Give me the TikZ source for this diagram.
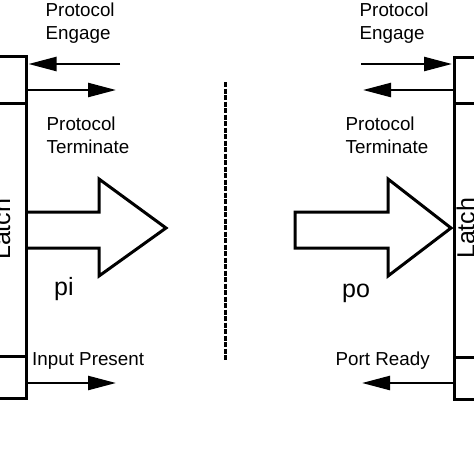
\documentclass[tikz,border=0pt]{standalone}
\usepackage{fontspec}
\setmainfont{Liberation Sans}
\usetikzlibrary{arrows.meta}

\tikzset{
  boxline/.style={line width=3pt},
  sig/.style={line width=2.4pt,-{Triangle[length=28pt,width=14pt]}},
  bigarrow/.style={line width=3pt,line join=miter},
  divider/.style={line width=2.5pt,dash pattern=on 5pt off 1.5pt},
  lbl/.style={font=\fontsize{18.8}{22.6}\selectfont,inner sep=0pt,anchor=base west,align=left},
  biglbl/.style={font=\fontsize{25}{30}\selectfont,inner sep=0pt,anchor=base west},
}

\begin{document}
\begin{tikzpicture}[x=1pt,y=-1pt]
\useasboundingbox (0,0) rectangle (474,474);
\clip (0,0) rectangle (474,474);

% latch boxes, cut by the page edges
\draw[boxline] (-30,56) -- (26,56) -- (26,398) -- (-30,398);
\draw[boxline] (-30,103) -- (26,103);
\draw[boxline] (-30,356) -- (26,356);
\draw[boxline] (500,57) -- (454,57) -- (454,399) -- (500,399);
\draw[boxline] (454,103) -- (500,103);
\draw[boxline] (454,357) -- (500,357);
\node[biglbl,rotate=90] (latchL) at (10,260) {Latch};
\node[biglbl,rotate=90] (latchR) at (474.5,259) {Latch};

% end points of the handshake lines
\coordinate (engL-a) at (120,64);
\coordinate (engL-b) at (28.5,64);
\coordinate (trmL-a) at (27,90);
\coordinate (trmL-b) at (116,90);
\coordinate (inpL-a) at (27,383);
\coordinate (inpL-b) at (116,383);
\coordinate (engR-a) at (361,64);
\coordinate (engR-b) at (452,64);
\coordinate (trmR-a) at (453,90);
\coordinate (trmR-b) at (363,90);
\coordinate (rdyR-a) at (453,383);
\coordinate (rdyR-b) at (362,383);

\draw[sig] (engL-a) -- (engL-b);
\draw[sig] (trmL-a) -- (trmL-b);
\draw[sig] (inpL-a) -- (inpL-b);
\draw[sig] (engR-a) -- (engR-b);
\draw[sig] (trmR-a) -- (trmR-b);
\draw[sig] (rdyR-a) -- (rdyR-b);

\node[lbl] (engL) at (45.5,39.3) {Protocol\\Engage};
\node[lbl] (trmL) at (46.5,153.3) {Protocol\\Terminate};
\node[lbl] (inpL) at (32,365) {Input Present};
\node[lbl] (engR) at (359.5,39.3) {Protocol\\Engage};
\node[lbl] (trmR) at (345.5,153.3) {Protocol\\Terminate};
\node[lbl] (rdyR) at (335.5,365) {Port Ready};

% data arrows
\draw[bigarrow] (26,212) -- (99,212) -- (99,179) -- (166,228) -- (99,276) -- (99,248) -- (26,248);
\draw[bigarrow] (295,212) -- (388,212) -- (388,179) -- (451,228) -- (388,276) -- (388,248) -- (295,248) -- cycle;
\node[biglbl] (pi) at (54,295) {pi};
\node[biglbl] (po) at (342,297) {po};

\draw[divider] (225.7,82) -- (225.7,360);
\end{tikzpicture}
\end{document}
